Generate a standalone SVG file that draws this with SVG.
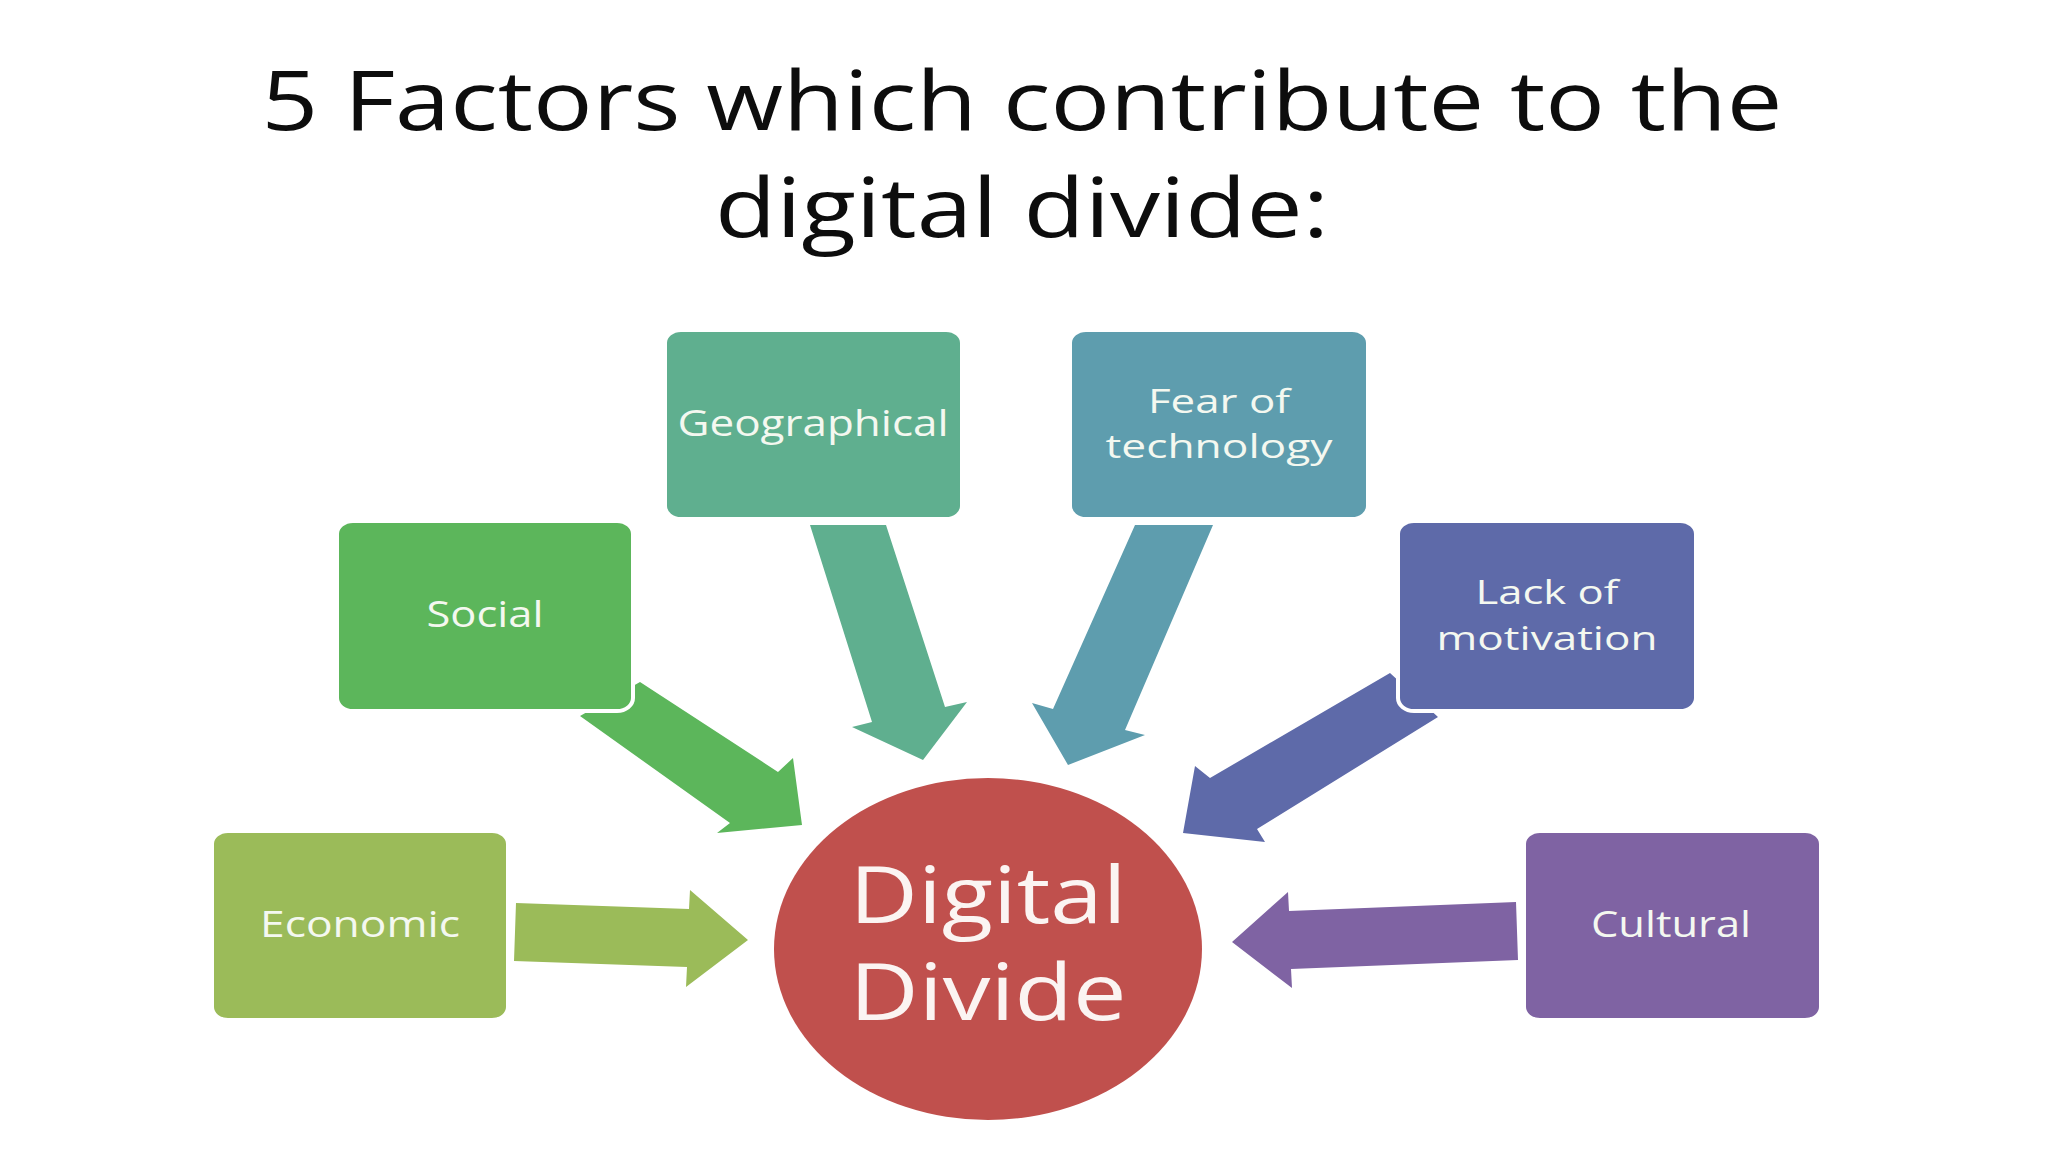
<svg xmlns="http://www.w3.org/2000/svg" width="2048" height="1152" viewBox="0 0 2048 1152">
<style>
.title{font-family:"Open Sans","Liberation Sans",sans-serif;font-size:82px;fill:#0d0d0d;text-anchor:middle}
.lbl{font-family:"Open Sans","Liberation Sans",sans-serif;font-size:36px;fill:#f4f8f0;text-anchor:middle}
.lbl2{font-family:"Open Sans","Liberation Sans",sans-serif;font-size:33px;fill:#f4f8f0;text-anchor:middle}
.big{font-family:"Open Sans","Liberation Sans",sans-serif;font-size:78px;fill:#fbf4f2;text-anchor:middle}
.box{stroke:#ffffff;stroke-width:4}
</style>
<rect x="0" y="0" width="2048" height="1152" fill="#ffffff"/>
<g id="title">
<text class="title" x="1022" y="130" textLength="1521" lengthAdjust="spacingAndGlyphs">5 Factors which contribute to the</text>
<text class="title" x="1022" y="237" textLength="614" lengthAdjust="spacingAndGlyphs">digital divide:</text>
</g>
<g id="connectors">
<polygon fill="#9bbb59" points="516,903 689,909 690,890 748,940 686,987 687,967 514,961"/>
<polygon fill="#5cb65b" points="640,682 778,772 793,758 802,825 717,833 730,823 580,716"/>
<polygon fill="#5faf8f" points="810,525 886,525 945,707 967,702 923,760 852,727 872,722"/>
<polygon fill="#5e9dae" points="1135,525 1213,525 1125,730 1145,735 1068,765 1032,703 1053,709"/>
<polygon fill="#5e6aa9" points="1390,673 1438,717 1257,829 1265,842 1183,833 1195,766 1210,778"/>
<polygon fill="#7f63a3" points="1516,902 1289,911 1288,892 1232,942 1292,988 1291,969 1518,960"/>
</g>
<g id="node-economic">
<rect class="box" x="212" y="831" width="296" height="189" rx="16" ry="13" fill="#9bbb59"/>
<text class="lbl" x="360" y="937" textLength="200" lengthAdjust="spacingAndGlyphs">Economic</text>
</g>
<g id="node-social">
<rect class="box" x="337" y="521" width="296" height="190" rx="16" ry="13" fill="#5cb65b"/>
<text class="lbl" x="485" y="627" textLength="117" lengthAdjust="spacingAndGlyphs">Social</text>
</g>
<g id="node-geographical">
<rect class="box" x="665" y="330" width="297" height="189" rx="16" ry="13" fill="#5faf8f"/>
<text class="lbl" x="813" y="436" textLength="271" lengthAdjust="spacingAndGlyphs">Geographical</text>
</g>
<g id="node-fear">
<rect class="box" x="1070" y="330" width="298" height="189" rx="16" ry="13" fill="#5e9dae"/>
<text class="lbl2" x="1219" y="413" textLength="142" lengthAdjust="spacingAndGlyphs">Fear of</text>
<text class="lbl2" x="1219" y="458" textLength="227" lengthAdjust="spacingAndGlyphs">technology</text>
</g>
<g id="node-lack">
<rect class="box" x="1398" y="521" width="298" height="190" rx="16" ry="13" fill="#5e6aa9"/>
<text class="lbl2" x="1547" y="604" textLength="143" lengthAdjust="spacingAndGlyphs">Lack of</text>
<text class="lbl2" x="1547" y="650" textLength="221" lengthAdjust="spacingAndGlyphs">motivation</text>
</g>
<g id="node-cultural">
<rect class="box" x="1524" y="831" width="297" height="189" rx="16" ry="13" fill="#7f63a3"/>
<text class="lbl" x="1671" y="937" textLength="160" lengthAdjust="spacingAndGlyphs">Cultural</text>
</g>
<g id="node-digital-divide">
<ellipse cx="988" cy="949" rx="214" ry="171" fill="#c0504d"/>
<text class="big" x="988" y="923" textLength="277" lengthAdjust="spacingAndGlyphs">Digital</text>
<text class="big" x="988" y="1020" textLength="277" lengthAdjust="spacingAndGlyphs">Divide</text>
</g>
</svg>
